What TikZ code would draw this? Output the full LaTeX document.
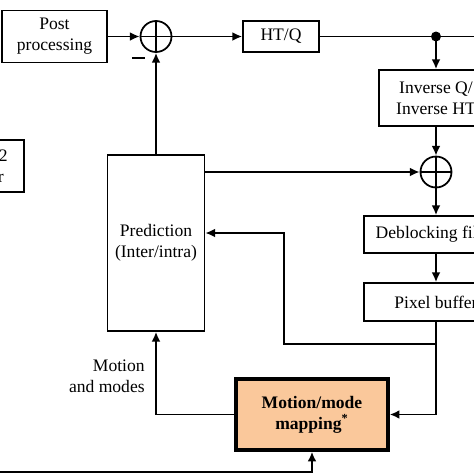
\documentclass[tikz,border=0pt]{standalone}
\usepackage{fontspec}
\setmainfont{Liberation Serif}
\usepackage{xcolor}
\usetikzlibrary{arrows.meta, positioning, calc}

\definecolor{mapfill}{RGB}{250,200,155}

\tikzset{
    blk/.style={draw, rectangle, line width=1pt, align=center, inner sep=1pt},
    sumnode/.style={draw, circle, line width=1pt, minimum size=0.62cm, inner sep=0pt},
    wire/.style={line width=1pt, -{Latex[length=5.5pt,width=5pt]}},
    plainwire/.style={line width=1pt}
}

\begin{document}
\begin{tikzpicture}[x=0.02cm, y=-0.02cm]
    \useasboundingbox (0,0) rectangle (474,474);
    \clip (0,0) rectangle (474,474);

    % Decoder (cut off at the left)
    \node[blk, minimum width=1.92cm, minimum height=1.04cm] (dec) at (-24,166) {MPEG-2\\decoder};

    % Post processing and subtraction
    \node[blk, minimum width=2.1cm, minimum height=1.04cm] (post) at (54.5,36.5) {Post\\processing};
    \node[sumnode] (sum1) at (156,36.5) {};
    \draw[plainwire] (sum1.north) -- (sum1.south) (sum1.west) -- (sum1.east);
    \node[inner sep=0pt] (minus) at (138.5,58) {\rule{7.5pt}{1.4pt}};

    % Transform / quantisation
    \node[blk, minimum width=1.52cm, minimum height=0.62cm] (htq) at (281,36.5) {HT/Q};
    \coordinate (dot) at (436,36.5);
    \coordinate (outR) at (500,36.5);
    \fill (dot) circle (0.1cm);

    % Reconstruction loop
    \node[blk, minimum width=2.28cm, minimum height=1.12cm] (invq) at (436,98) {Inverse Q/\\Inverse HT};
    \node[sumnode] (sum2) at (436,172) {};
    \draw[plainwire] (sum2.north) -- (sum2.south) (sum2.west) -- (sum2.east);
    \node[blk, minimum width=2.88cm, minimum height=0.74cm] (deblock) at (436,234.5) {Deblocking filter};
    \node[blk, minimum width=2.88cm, minimum height=0.76cm] (pixbuf) at (436,302) {Pixel buffer};
    \coordinate (fb) at (436,344);
    \coordinate (fbL) at (284,344);

    % Prediction
    \node[blk, minimum width=1.94cm, minimum height=3.52cm] (pred) at (156,243) {Prediction\\(Inter/intra)};

    % Motion/mode mapping
    \node[blk, line width=2pt, fill=mapfill, font=\bfseries, minimum width=3.04cm, minimum height=1.42cm] (mmap) at (312,414.5) {Motion/mode\\mapping\textsuperscript{*}};
    \node[align=right, anchor=east, inner sep=0pt] (mlabel) at (145,376) {Motion\\and modes};
    \coordinate (inL) at (-10,472);

    \draw[wire] (post.east) -- (sum1.west);
    \draw[wire] (sum1.east) -- (htq.west);
    \draw[plainwire] (htq.east) -- (dot) -- (outR);
    \draw[wire] (dot) -- (invq.north);
    \draw[wire] (invq.south) -- (sum2.north);
    \draw[wire] (sum2.south) -- (deblock.north);
    \draw[wire] (deblock.south) -- (pixbuf.north);
    \draw[wire] (pixbuf.south) |- (mmap.east);
    \draw[wire] (fb) -- (fbL) |- ([yshift=0.2cm]pred.east);
    \draw[wire] (pred.east |- sum2.west) -- (sum2.west);
    \draw[wire] (pred.north) -- (sum1.south);
    \draw[wire] (mmap.west) -| (pred.south);
    \draw[wire] (inL) -| (mmap.south);
\end{tikzpicture}
\end{document}
